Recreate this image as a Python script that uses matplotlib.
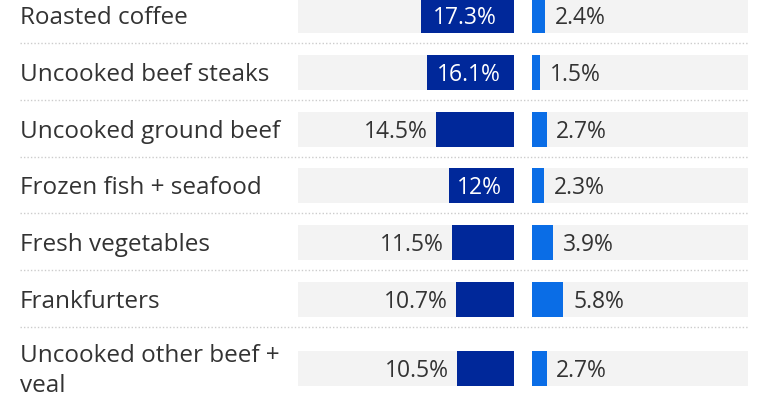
import matplotlib.pyplot as plt
from matplotlib.lines import Line2D

# Data
categories = ['Roasted coffee', 'Uncooked beef steaks', 'Uncooked ground beef',
              'Frozen fish + seafood', 'Fresh vegetables', 'Frankfurters',
              'Uncooked other beef +\nveal']
left_values = [17.3, 16.1, 14.5, 12, 11.5, 10.7, 10.5]
right_values = [2.4, 1.5, 2.7, 2.3, 3.9, 5.8, 2.7]
left_labels = ['17.3%', '16.1%', '14.5%', '12%', '11.5%', '10.7%', '10.5%']
right_labels = ['2.4%', '1.5%', '2.7%', '2.3%', '3.9%', '5.8%', '2.7%']
left_inside = [True, True, False, True, False, False, False]

DARK = '#00289a'
LIGHT = '#0a6de6'
BG = '#f3f3f3'
TXT = '#333333'
W, H = 768, 402
plt.rcParams['font.family'] = ['Open Sans', 'DejaVu Sans']

# row centres in pixel units (layout only)
centers = [16, 73, 130, 186, 243, 300, 369]
seps = [44, 101, 158, 214, 271, 328]
bar_h = 35
xmax = 40

fig = plt.figure(figsize=(W / 100, H / 100), dpi=100)
base = fig.add_axes([0, 0, 1, 1])
base.set_xlim(0, W)
base.set_ylim(H, 0)
base.axis('off')

def panel(x0, x1):
    ax = fig.add_axes([x0 / W, 0, (x1 - x0) / W, 1])
    ax.set_ylim(H, 0)
    ax.axis('off')
    return ax

left = panel(298, 514)
left.set_xlim(xmax, 0)
right = panel(532, 748)
right.set_xlim(0, xmax)

for ax in (left, right):
    ax.barh(centers, [xmax] * len(centers), height=bar_h, color=BG, zorder=1)

left.barh(centers, left_values, height=bar_h, color=DARK, zorder=2)
right.barh(centers, right_values, height=bar_h, color=LIGHT, zorder=2)

fs_val = 16.5
fs_cat = 17.5
dy = 2
for y, v, lab, inside in zip(centers, left_values, left_labels, left_inside):
    if inside:
        left.text(v / 2 + 0.4, y + dy, lab, color='white', fontsize=fs_val, ha='center', va='center', zorder=3)
    else:
        left.text(v + 1.5, y + dy, lab, color=TXT, fontsize=fs_val, ha='right', va='center', zorder=3)
for y, v, lab in zip(centers, right_values, right_labels):
    right.text(v + 1.8, y + dy, lab, color=TXT, fontsize=fs_val, ha='left', va='center', zorder=3)

for y, cat in zip(centers, categories):
    base.text(20, y + dy, cat, color=TXT, fontsize=fs_cat, ha='left', va='center', linespacing=1.35)

for y in seps:
    base.add_line(Line2D([20, 748], [y, y], color='#cccccc', lw=1, ls=(0, (1, 1.5))))

fig.savefig('out.png', dpi=100)
